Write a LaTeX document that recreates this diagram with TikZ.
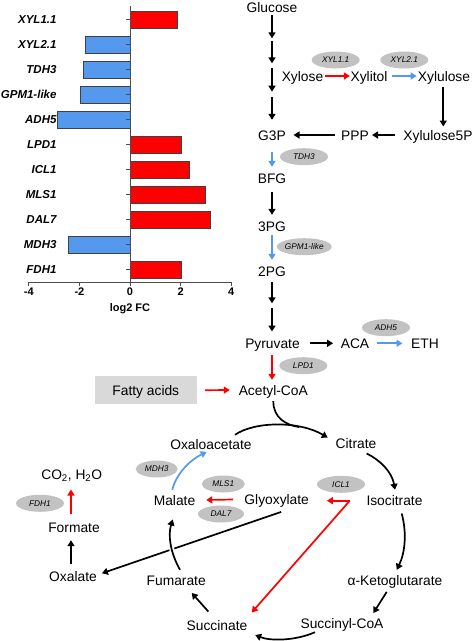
\documentclass[tikz,border=0pt]{standalone}
\usepackage{fontspec}
\setmainfont{Liberation Sans}
\usetikzlibrary{arrows.meta,shapes.geometric,calc}
\definecolor{myred}{HTML}{FF0000}
\definecolor{myblue}{HTML}{5599EE}
\definecolor{enzgray}{HTML}{C2C2C2}
\definecolor{boxgray}{HTML}{D9D9D9}
\begin{document}
\begin{tikzpicture}[x=1pt,y=-1pt,
  met/.style={font=\fontsize{13.8}{15}\selectfont, inner sep=0pt, text height=10pt, text depth=0pt},
  enz/.style={ellipse, fill=enzgray, minimum width=48pt, minimum height=17pt, inner sep=0pt, font=\fontsize{8.3}{9}\selectfont\itshape},
  arr/.style={line width=1.7pt, -{Triangle[length=6pt,width=7pt]}},
  karr/.style={arr, color=black},
  rarr/.style={arr, color=myred},
  barr/.style={arr, color=myblue},
  axis/.style={draw=black!70, line width=0.8pt},
  glab/.style={anchor=east, inner sep=0pt, font=\fontsize{11.5}{12}\selectfont\bfseries\itshape, text height=8.3pt, text depth=0pt},
  ticklab/.style={inner sep=0pt, font=\fontsize{11}{12}\selectfont\bfseries, text height=8pt, text depth=0pt},
  halo/.style={preaction={draw=white, line width=5pt, -}},
]
\useasboundingbox (0,0) rectangle (474,641);

% ---------------- bar chart ----------------
\foreach \v/\c/\lab [count=\i from 0] in {1.85/myred/XYL1.1, -1.77/myblue/XYL2.1, -1.85/myblue/TDH3, -1.98/myblue/GPM1-like, -2.86/myblue/ADH5, 2.04/myred/LPD1, 2.34/myred/ICL1, 2.96/myred/MLS1, 3.16/myred/DAL7, -2.46/myblue/MDH3, 2.02/myred/FDH1} {
  \pgfmathsetmacro\yc{19.5+25*\i}
  \filldraw[fill=\c, draw=black!75, line width=0.5pt] (130,{\yc-8.3}) rectangle ({130+25.3*(\v)},{\yc+8.3});
  \draw[axis] (126,\yc) -- (130,\yc);
  \node[glab] (lab\i) at (56.7,\yc) {\lab};
}
\draw[axis] (130,6) -- (130,282);
\draw[axis] (29.3,282) -- (231.7,282);
\foreach \t [count=\k] in {-4,-2,0,2,4} {
  \draw[axis] ({130+25.3*\t},282) -- ({130+25.3*\t},286);
  \node[ticklab] (tick\k) at ({130+25.3*\t},291) {\t};
}
\node[ticklab] (xlab) at (130,307.3) {log2 FC};

% ---------------- metabolites ----------------
\node[met] (glc) at (272,7) {Glucose};
\node[met] (xylose) at (302.5,76) {Xylose};
\node[met] (xylitol) at (369,76) {Xylitol};
\node[met] (xylulose) at (444,76) {Xylulose};
\node[met] (x5p) at (438,135) {Xylulose5P};
\node[met] (ppp) at (355,135) {PPP};
\node[met] (g3p) at (272,135) {G3P};
\node[met] (bfg) at (272,178.3) {BFG};
\node[met] (pg3) at (272,226) {3PG};
\node[met] (pg2) at (272,271) {2PG};
\node[met] (pyr) at (272.5,343.3) {Pyruvate};
\node[met] (aca) at (355,343.3) {ACA};
\node[met] (eth) at (425,343.3) {ETH};
\node[met] (acoa) at (273.3,390) {Acetyl-CoA};
\node[met, fill=boxgray, minimum width=101.7pt, minimum height=28.3pt] (fatty) at (145.8,390.2) {Fatty acids};
\node[met] (oaa) at (211,444.5) {Oxaloacetate};
\node[met] (cit) at (356,443) {Citrate};
\node[met] (iso) at (394.5,500) {Isocitrate};
\node[met] (glyox) at (276.7,499.5) {Glyoxylate};
\node[met] (mal) at (174.5,500) {Malate};
\node[met] (co2) at (71.7,474) {CO\textsubscript{2}, H\textsubscript{2}O};
\node[met] (form) at (74,527) {Formate};
\node[met] (oxa) at (73,576) {Oxalate};
\node[met] (fum) at (176.2,580) {Fumarate};
\node[met] (succ) at (217,625.5) {Succinate};
\node[met] (succoa) at (342,623.5) {Succinyl-CoA};
\node[met] (akg) at (395,580) {α-Ketoglutarate};

% ---------------- enzymes ----------------
\node[enz] (e1) at (335.7,60) {XYL1.1};
\node[enz] (e2) at (404.3,60) {XYL2.1};
\node[enz] (e3) at (304,156.7) {TDH3};
\node[enz] (e4) at (304.3,246.7) {GPM1-like};
\node[enz] (e5) at (386,327.7) {ADH5};
\node[enz] (e6) at (303.3,365.7) {LPD1};
\node[enz, minimum width=42pt] (e7) at (156.7,469) {MDH3};
\node[enz, minimum width=43pt] (e8) at (223.3,484) {MLS1};
\node[enz, minimum width=46pt] (e9) at (221,514) {DAL7};
\node[enz] (e10) at (341,484.3) {ICL1};
\node[enz] (e11) at (40,503.3) {FDH1};

% ---------------- glycolysis chain ----------------
\coordinate (c1) at (272,38.3);
\coordinate (c2) at (272,40.7);
\coordinate (c3) at (272,63.3);
\coordinate (c4) at (272,68.3);
\coordinate (c5) at (272,91.7);
\coordinate (c6) at (272,96.7);
\draw[karr] ($(glc.south)+(0,3)$) -- (c1);
\draw[karr] (c2) -- (c3);
\draw[karr] (c4) -- (c5);
\draw[karr] (c6) -- ($(g3p.north)+(0,-10)$);
\draw[barr] ($(g3p.south)+(0,11.7)$) -- ($(bfg.north)+(0,-6.3)$);
\draw[karr] ($(bfg.south)+(0,8.4)$) -- ($(pg3.north)+(0,-6)$);
\draw[barr] ($(pg3.south)+(0,4)$) -- ($(pg2.north)+(0,-6)$);
\coordinate (c7) at (272,303.3);
\coordinate (c8) at (272,308.3);
\draw[karr] ($(pg2.south)+(0,5.7)$) -- (c7);
\draw[karr] (c8) -- ($(pyr.north)+(-0.5,-6.6)$);
\draw[rarr] ($(pyr.south)+(-0.5,6.7)$) -- ($(acoa.north)+(-1.3,-5)$);

% ---------------- xylose branch ----------------
\draw[rarr] ($(xylose.east)+(1.8,0)$) -- ($(xylitol.west)+(-0.5,0)$);
\draw[barr] ($(xylitol.east)+(4,0)$) -- ($(xylulose.west)+(-1,0)$);
\draw[karr] ($(xylulose.south)+(-0.7,5.7)$) -- ($(x5p.north)+(5.3,-3.3)$);
\draw[karr] ($(x5p.west)+(-8.5,0)$) -- ($(ppp.east)+(3,0)$);
\draw[karr] ($(ppp.west)+(-6.2,0)$) -- ($(g3p.east)+(7.5,0)$);

% ---------------- pyruvate branch ----------------
\draw[karr] ($(pyr.east)+(10,0)$) -- ($(aca.west)+(-7.5,0)$);
\draw[barr] ($(aca.east)+(8,0)$) -- ($(eth.west)+(-8.5,0)$);
\draw[rarr] ($(fatty.east)+(8.3,0)$) -- ($(acoa.west)+(-8.8,0)$);

% ---------------- TCA / glyoxylate cycle ----------------
\draw[karr] ($(oaa.north)+(24,-4.5)$) .. controls (255,421) and (300,421) .. ($(cit.west)+(-7.7,-5.3)$);
\draw[line width=1.7pt] ($(acoa.south)+(0,6)$) .. controls (273.3,418) and (286,425) .. (299.3,427.1);
\draw[karr] ($(cit.south)+(10.7,5.3)$) .. controls (380,460) and (392,472) .. ($(iso.north)+(0.5,-5)$);
\draw[karr] ($(iso.south)+(7.2,8.3)$) .. controls (407,533) and (405,553) .. ($(akg.north)+(1.7,-5)$);
\draw[karr] ($(akg.south)+(-8.3,6.7)$) -- ($(succoa.north)+(31.3,-5.2)$);
\draw[karr] ($(succoa.south)+(-27,3.5)$) .. controls (295,641) and (270,641) .. ($(succ.east)+(7.7,9.5)$);
\draw[karr] ($(succ.north)+(-8.7,-8.8)$) -- ($(fum.south)+(15.5,7.7)$);
\draw[karr] ($(glyox.south)+(4.5,7.2)$) -- ($(oxa.east)+(4.9,-2.7)$);
\draw[karr, halo] ($(fum.north)+(3.8,-5)$) .. controls (170,552) and (168,535) .. ($(mal.south)+(-1.8,14.3)$);
\draw[barr] ($(mal.north)+(-2.2,-5)$) .. controls (176,474) and (190,460) .. ($(oaa.south)+(-4.3,2.2)$);
\draw[rarr] ($(glyox.west)+(-11.2,0)$) -- ($(mal.east)+(10.8,0)$);
\coordinate (icorner) at ($(iso.west)+(-16.5,0.7)$);
\draw[rarr] (icorner) -- ($(glyox.east)+(17.8,1.2)$);
\draw[rarr] (icorner) -- ($(succ.north)+(34.7,-7.8)$);
\draw[karr] ($(oxa.north)+(-2,-7)$) -- ($(form.south)+(-3,8)$);
\draw[rarr] ($(form.north)+(-3,-8)$) -- ($(co2.south)+(-0.7,10.3)$);
\end{tikzpicture}
\end{document}
